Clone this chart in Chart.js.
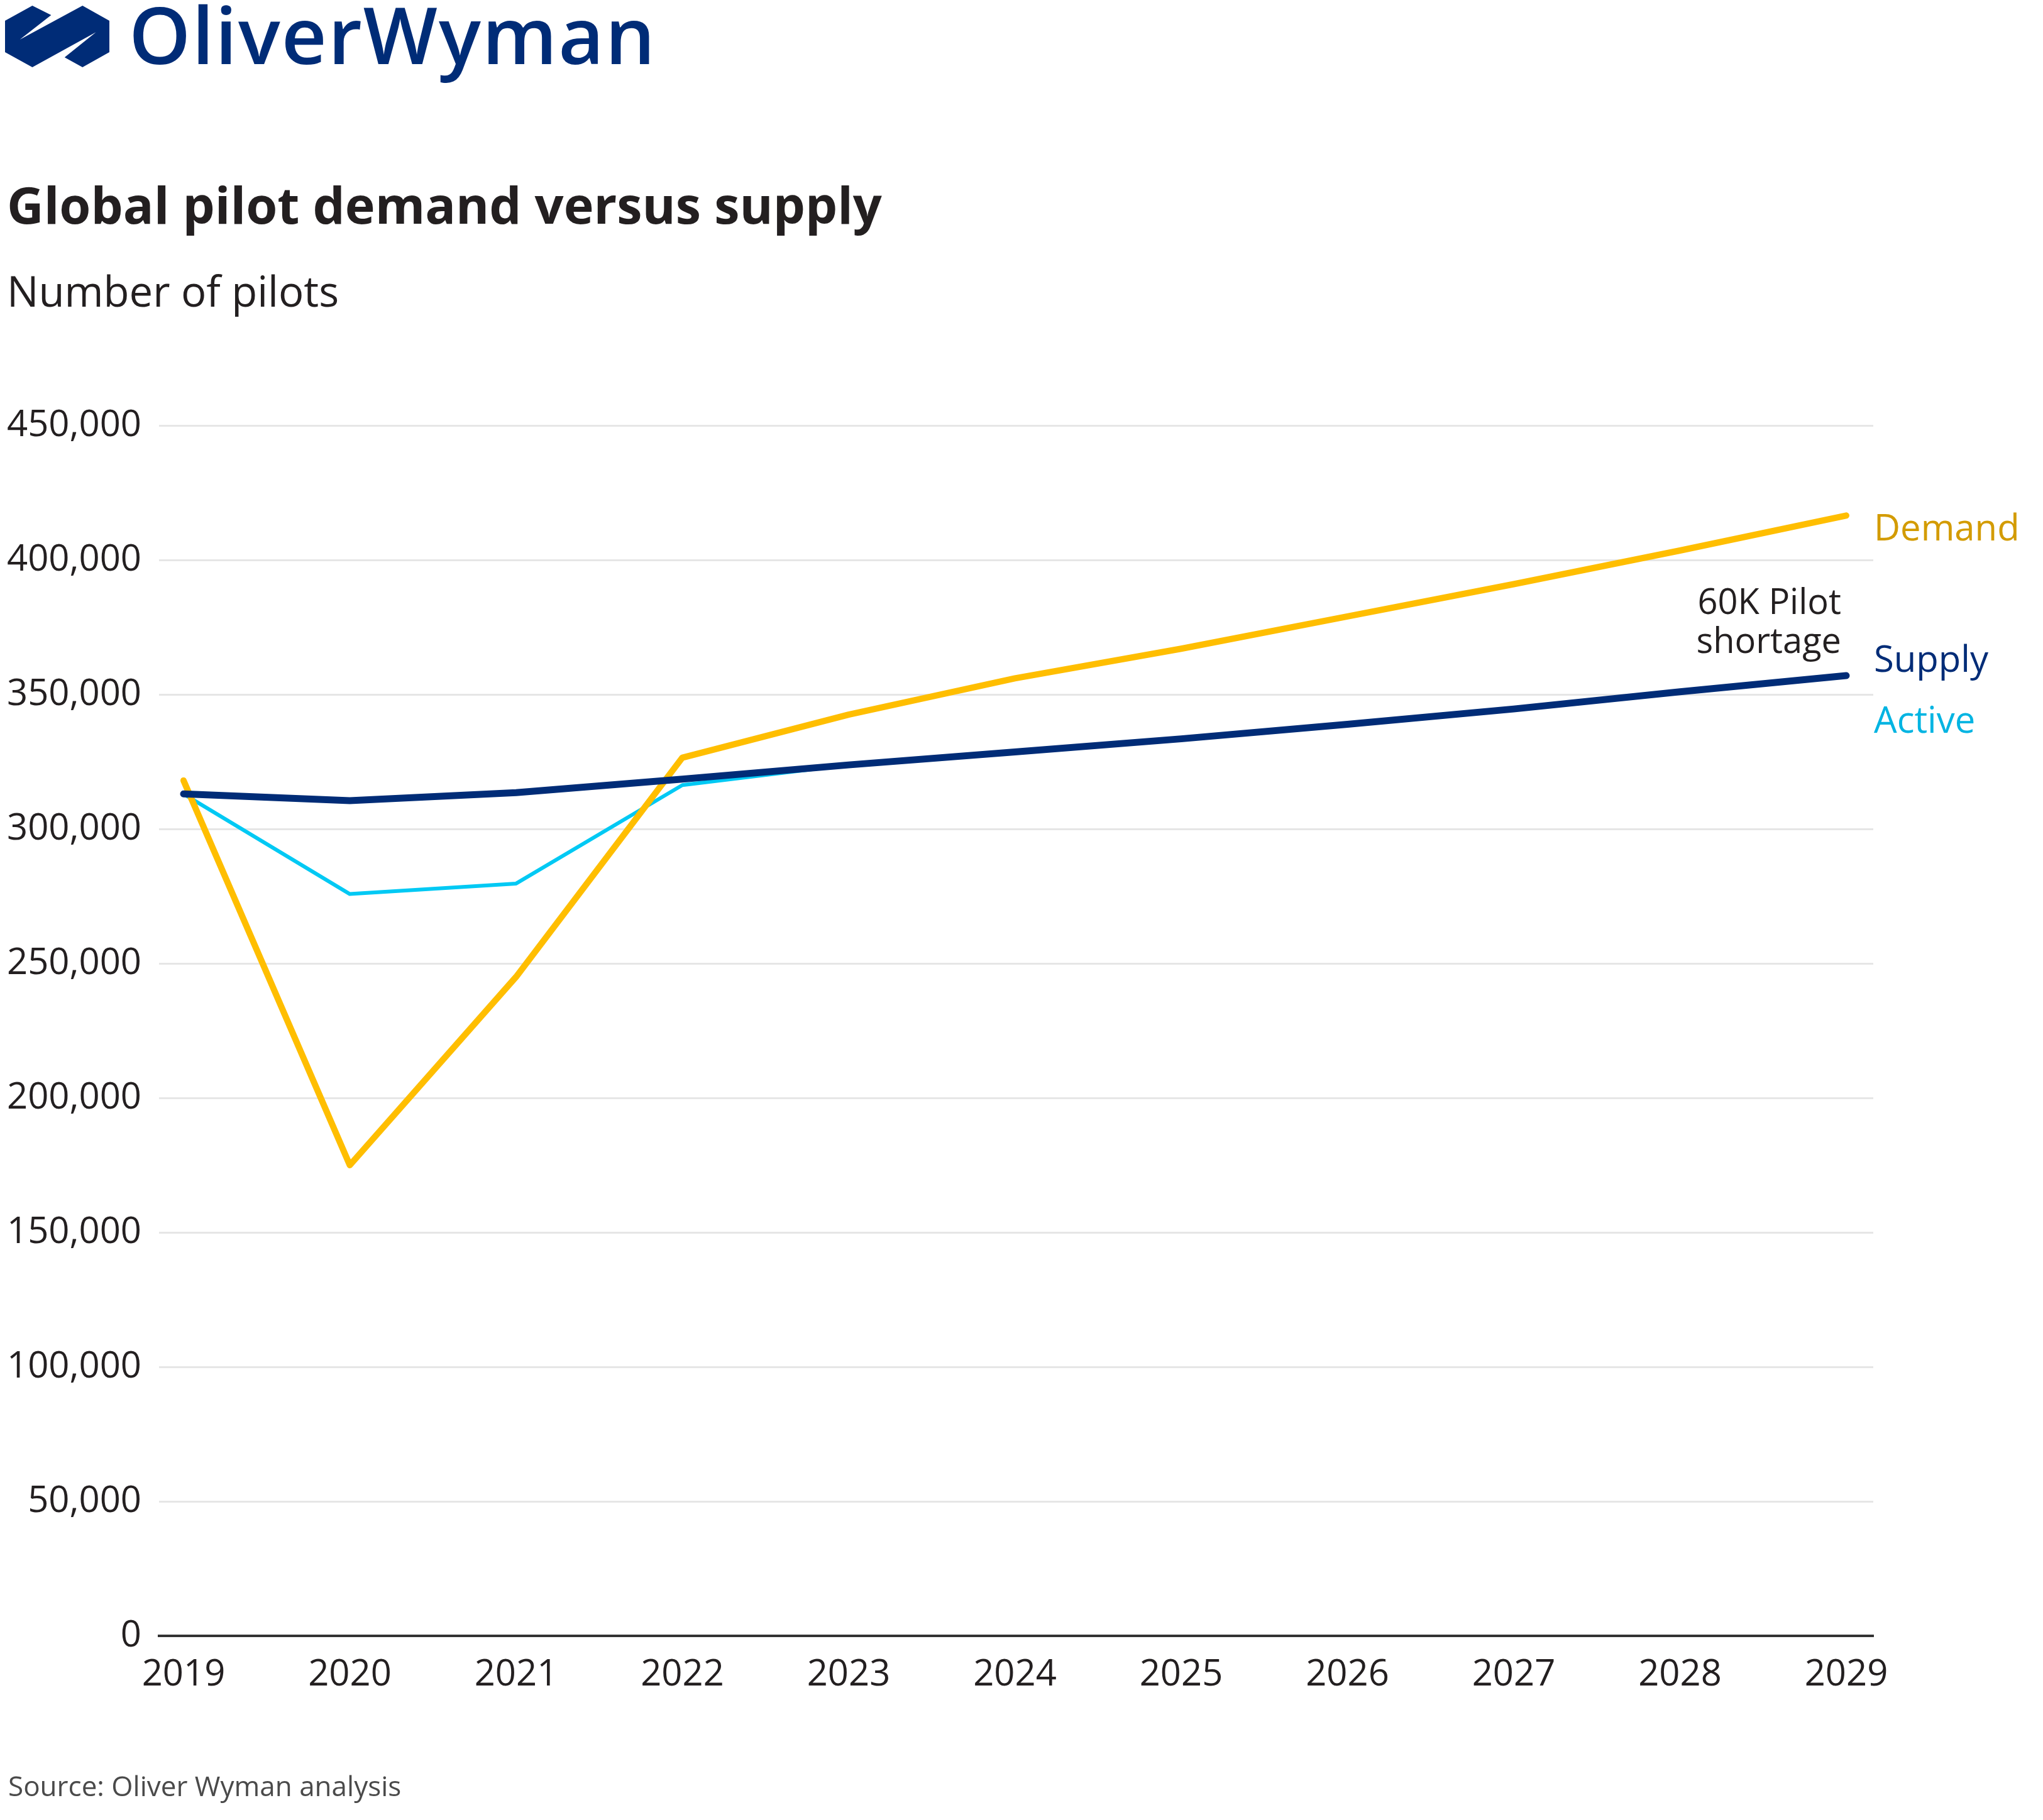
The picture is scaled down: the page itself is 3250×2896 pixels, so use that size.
<!DOCTYPE html>
<html>
<head>
<meta charset="utf-8">
<script src="https://cdn.jsdelivr.net/npm/chart.js@4.4.1/dist/chart.umd.min.js"></script>
<style>
  html, body { margin: 0; padding: 0; background: #fff; }
  body { width: 3250px; height: 2896px; position: relative; overflow: hidden; font-family: "Open Sans", sans-serif; color: #231f20; }
  #wrap { position: absolute; left: 0; top: 0; width: 3250px; height: 2896px; }
  .txt { position: absolute; white-space: nowrap; line-height: 1; margin: 0; }
  #logo-icon { position: absolute; left: 8px; top: 9px; }
  #logo-text { left: 205px; top: -9px; font-size: 125px; font-weight: 600; color: #002c77; letter-spacing: 2px; }
  #title { left: 11px; top: 284px; font-size: 81px; font-weight: 700; }
  #subtitle { left: 11px; top: 429px; font-size: 67px; font-weight: 400; }
  #source { left: 13px; top: 2819px; font-size: 44px; font-weight: 400; color: #4a4a4a; }
</style>
</head>
<body>
<svg id="logo-icon" width="166" height="98" viewBox="12 28 233 294" preserveAspectRatio="none">
  <polygon fill="#002c77" points="12,100 73,28 115,73 45,190 185,28 245,100 245,250 185,322 145,275 215,155 73,322 12,250"/>
</svg>
<div id="logo-text" class="txt">OliverWyman</div>
<div id="title" class="txt">Global pilot demand versus supply</div>
<div id="subtitle" class="txt">Number of pilots</div>
<div id="wrap"><canvas id="chart"></canvas></div>
<div id="source" class="txt">Source: Oliver Wyman analysis</div>

<script>
// data
const years = [2019, 2020, 2021, 2022, 2023, 2024, 2025, 2026, 2027, 2028, 2029];
const demand = [318000, 175000, 245000, 326500, 342500, 356000, 367000, 379000, 391000, 403500, 416500];
const supply = [313000, 310500, 313500, 318500, 323800, 328600, 333500, 338900, 344600, 351000, 357000];
const active = [313000, 275800, 279700, 316300, 323800, 328600, 333500, 338900, 344600, 351000, 357000];
const yTicks = [0, 50000, 100000, 150000, 200000, 250000, 300000, 350000, 400000, 450000];
const annotation = ['60K Pilot', 'shortage'];

const NAVY = '#002c77';
const GOLD = '#ffbe00';
const CYAN = '#00c9f4';

function toPoints(values) {
    return years.map((yr, i) => ({ x: yr, y: values[i] }));
}

// end-of-line labels and the shortage note
const lineLabels = {
    id: 'lineLabels',
    afterDatasetsDraw(chart) {
        const { ctx, scales: { x, y } } = chart;
        const last = years.length - 1;
        const xEnd = x.getPixelForValue(years[last]);
        const yDemand = y.getPixelForValue(demand[last]);
        const ySupply = y.getPixelForValue(supply[last]);
        const yActive = y.getPixelForValue(active[last]);

        ctx.save();
        ctx.font = '58px "Open Sans"';
        ctx.textBaseline = 'middle';
        ctx.textAlign = 'left';
        ctx.fillStyle = '#d39b00';
        ctx.fillText('Demand', xEnd + 44, yDemand + 23);
        ctx.fillStyle = NAVY;
        ctx.fillText('Supply', xEnd + 44, ySupply - 23);
        ctx.fillStyle = '#00b4e2';
        ctx.fillText('Active', xEnd + 44, yActive + 74);

        // note sits between the demand and supply ends
        const mid = (yDemand + ySupply) / 2;
        ctx.font = '56px "Open Sans"';
        ctx.textAlign = 'right';
        ctx.fillStyle = '#231f20';
        ctx.fillText(annotation[0], xEnd - 8, mid + 13);
        ctx.fillText(annotation[1], xEnd - 8, mid + 75);
        ctx.restore();
    }
};

const ctx = document.getElementById('chart').getContext('2d');
new Chart(ctx, {
    type: 'line',
    data: {
        datasets: [
            {
                label: 'Supply',
                data: toPoints(supply),
                borderColor: NAVY,
                borderWidth: 11
            },
            {
                label: 'Demand',
                data: toPoints(demand),
                borderColor: GOLD,
                borderWidth: 10
            },
            {
                label: 'Active',
                data: toPoints(active),
                borderColor: CYAN,
                borderWidth: 6
            }
        ]
    },
    options: {
        responsive: true,
        maintainAspectRatio: false,
        animation: false,
        devicePixelRatio: 1,
        layout: {
            padding: { top: 677, right: 270, bottom: 0, left: 0 }
        },
        elements: {
            point: { radius: 0, hoverRadius: 0 },
            line: { tension: 0, borderCapStyle: 'round', borderJoinStyle: 'round', fill: false }
        },
        plugins: {
            legend: { display: false },
            tooltip: { enabled: false }
        },
        scales: {
            x: {
                type: 'linear',
                min: 2018.8526,
                max: 2029.1626,
                grid: { display: false, drawTicks: false },
                border: { display: true, color: '#333333', width: 4 },
                afterBuildTicks: (scale) => {
                    scale.ticks = years.map(v => ({ value: v }));
                },
                afterFit: (scale) => {
                    scale.height = 293;
                },
                ticks: {
                    autoSkip: false,
                    maxRotation: 0,
                    padding: 28,
                    color: '#231f20',
                    font: { family: 'Open Sans', size: 58 },
                    callback: (value) => String(value)
                }
            },
            y: {
                min: 0,
                max: 450000,
                grid: { color: '#e6e6e6', lineWidth: 3, drawTicks: false },
                border: { display: false },
                afterBuildTicks: (scale) => {
                    scale.ticks = yTicks.map(v => ({ value: v }));
                },
                afterFit: (scale) => {
                    scale.width = 253;
                },
                ticks: {
                    padding: 28,
                    color: '#231f20',
                    font: { family: 'Open Sans', size: 58 },
                    callback: (value) => value.toLocaleString('en-US')
                }
            }
        }
    },
    plugins: [lineLabels]
});
</script>
</body>
</html>
